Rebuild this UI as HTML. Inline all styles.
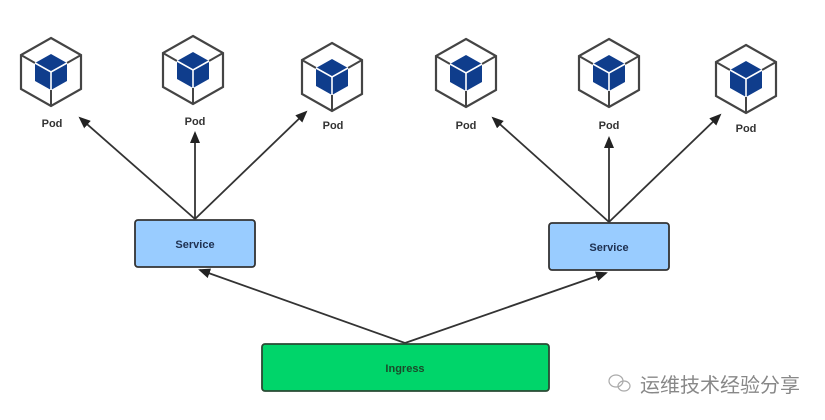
<!DOCTYPE html>
<html><head><meta charset="utf-8"><style>
html,body{margin:0;padding:0;background:#fff;width:825px;height:420px;overflow:hidden}
svg{display:block}
text{font-family:"Liberation Sans",sans-serif;font-weight:bold}
</style></head><body>
<svg width="825" height="420" viewBox="0 0 825 420">
<defs>
<g id="pod">
<polygon points="0,-34 30,-17 30,17 0,34 -30,17 -30,-17" fill="none" stroke="#444" stroke-width="2.2"/>
<line x1="-30" y1="-17" x2="-16" y2="-9" stroke="#444" stroke-width="2"/>
<line x1="30" y1="-17" x2="16" y2="-9" stroke="#444" stroke-width="2"/>
<line x1="0" y1="34" x2="0" y2="18" stroke="#444" stroke-width="2"/>
<polygon points="0,-18 16,-9 16,9 0,18 -16,9 -16,-9" fill="#0f3d8c"/>
<polyline points="-16,-9 0,0 16,-9" fill="none" stroke="#fff" stroke-width="1.6"/>
<line x1="0" y1="0" x2="0" y2="18" stroke="#fff" stroke-width="1.6"/>
</g>
<marker id="ah" markerWidth="12" markerHeight="10" refX="10" refY="5" orient="auto" markerUnits="userSpaceOnUse">
<path d="M0,0 L12,5 L0,10 Z" fill="#222"/>
</marker>
</defs>
<use href="#pod" x="51" y="72"/>
<use href="#pod" x="193" y="70"/>
<use href="#pod" x="332" y="77"/>
<use href="#pod" x="466" y="73"/>
<use href="#pod" x="609" y="73"/>
<use href="#pod" x="746" y="79"/>
<g font-size="11" fill="#333" text-anchor="middle">
<text x="52" y="127">Pod</text>
<text x="195" y="125">Pod</text>
<text x="333" y="129">Pod</text>
<text x="466" y="129">Pod</text>
<text x="609" y="129">Pod</text>
<text x="746" y="132">Pod</text>
</g>
<g stroke="#333" stroke-width="1.8" marker-end="url(#ah)">
<line x1="195" y1="219" x2="80" y2="118"/>
<line x1="195" y1="219" x2="195" y2="133"/>
<line x1="195" y1="219" x2="306" y2="112"/>
<line x1="609" y1="222" x2="493" y2="118"/>
<line x1="609" y1="222" x2="609" y2="138"/>
<line x1="609" y1="222" x2="720" y2="115"/>
<line x1="405" y1="343" x2="200" y2="270"/>
<line x1="405" y1="343" x2="606" y2="273"/>
</g>
<rect x="135" y="220" width="120" height="47" rx="3" fill="#99ccff" stroke="#333" stroke-width="1.8"/>
<text x="195" y="248" font-size="11" fill="#1e3050" text-anchor="middle">Service</text>
<rect x="549" y="223" width="120" height="47" rx="3" fill="#99ccff" stroke="#333" stroke-width="1.8"/>
<text x="609" y="251" font-size="11" fill="#1e3050" text-anchor="middle">Service</text>
<rect x="262" y="344" width="287" height="47" rx="3" fill="#00d56a" stroke="#2a4a34" stroke-width="1.8"/>
<text x="405" y="372" font-size="11" fill="#1a4a2a" text-anchor="middle">Ingress</text>
<g fill="none" stroke="#aaa" stroke-width="1.2">
<ellipse cx="616" cy="381" rx="7" ry="6"/>
<ellipse cx="624" cy="386" rx="6" ry="5"/>
</g>
<text x="640" y="392" font-size="20" fill="#888" style="font-family:'Liberation Sans','Noto Sans CJK SC',sans-serif;font-weight:normal">运维技术经验分享</text>
</svg>
</body></html>
